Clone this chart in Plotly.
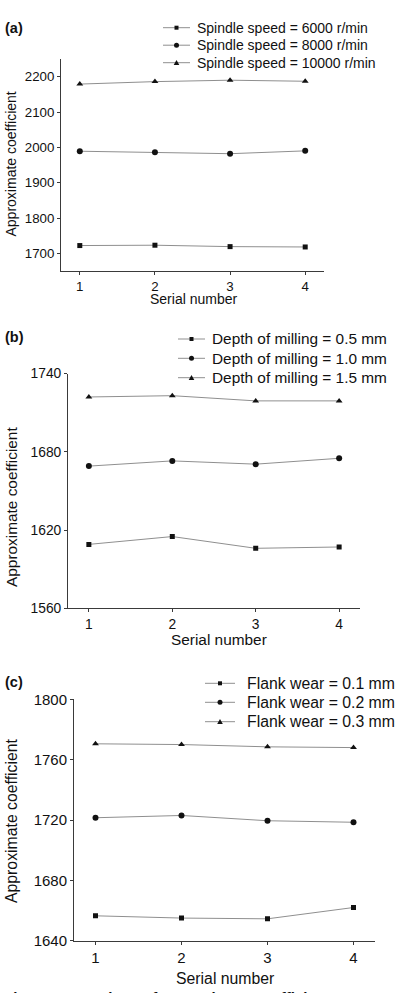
import plotly.graph_objects as go

# serial numbers on x
serial = [1, 2, 3, 4]

# (a) spindle speed
speed_6000 = [1722, 1723, 1719, 1718]
speed_8000 = [1989, 1986, 1982, 1990]
speed_10000 = [2179, 2186, 2190, 2187]

# (b) depth of milling
depth_05 = [1609, 1615, 1606, 1607]
depth_10 = [1669, 1673, 1670.5, 1675]
depth_15 = [1722, 1723, 1719, 1719]

# (c) flank wear
wear_01 = [1656.5, 1655, 1654.5, 1662]
wear_02 = [1721.5, 1723, 1719.5, 1718.5]
wear_03 = [1770.5, 1770, 1768.5, 1768]

names_a = ['Spindle speed = 6000 r/min', 'Spindle speed = 8000 r/min', 'Spindle speed = 10000 r/min']
names_b = ['Depth of milling = 0.5 mm', 'Depth of milling = 1.0 mm', 'Depth of milling = 1.5 mm']
names_c = ['Flank wear = 0.1 mm', 'Flank wear = 0.2 mm', 'Flank wear = 0.3 mm']

W, H = 400, 993
FONT = 'Arial, Liberation Sans, sans-serif'
INK = '#111111'
LINE_GRAY = '#8f8f8f'
symbols = ['square', 'circle', 'triangle-up']
sizes = [5, 6, 6]


def px_x(p):
    return p / W


def px_y(p):
    return 1 - p / H


# per panel: plot box (left, right, top, bottom), y range, tick values, font sizes,
# legend geometry (line x0, x1, text x, row ys), axis title spots
panels = [
    dict(series=[speed_6000, speed_8000, speed_10000], names=names_a,
         box=(61, 324, 59, 271), yr=[1650, 2250], ticks=list(range(1700, 2201, 100)),
         tick_fs=13.3, fs=14, leg=(163, 190, 195, [27.7, 45.2, 62.7]),
         xt=(193, 299), yt=(10, 164.5), lab=(3, 27.7, '(a)')),
    dict(series=[depth_05, depth_10, depth_15], names=names_b,
         box=(68, 360, 373.5, 608.3), yr=[1560, 1740], ticks=list(range(1560, 1741, 60)),
         tick_fs=13.8, fs=15.4, leg=(178, 205, 210, [339, 358.3, 377.7]),
         xt=(218.5, 639.5), yt=(11.5, 507.5), lab=(3, 337, '(b)')),
    dict(series=[wear_01, wear_02, wear_03], names=names_c,
         box=(74, 375, 699.3, 940.7), yr=[1640, 1800], ticks=list(range(1640, 1801, 40)),
         tick_fs=15, fs=15.8, leg=(205, 235, 245, [683.3, 702.3, 721.7]),
         xt=(224.5, 978.8), yt=(11.7, 820.3), lab=(3, 682, '(c)')),
]

fig = go.Figure()
layout = {}
shapes = []
annotations = []

for i, p in enumerate(panels):
    sfx = '' if i == 0 else str(i + 1)
    for vals, name, sym, sz in zip(p['series'], p['names'], symbols, sizes):
        fig.add_trace(go.Scatter(
            x=serial, y=vals, name=name, mode='lines+markers',
            xaxis='x' + sfx, yaxis='y' + sfx, showlegend=False,
            line=dict(color=LINE_GRAY, width=1),
            marker=dict(symbol=sym, size=sz, color=INK),
        ))

    l, r, t, b = p['box']
    common = dict(showline=True, linecolor='#3a3a3a', linewidth=1, ticks='outside',
                  ticklen=3, tickcolor='#3a3a3a', showgrid=False, zeroline=False,
                  tickfont=dict(size=p['tick_fs'], color=INK, family=FONT))
    layout['xaxis' + sfx] = dict(common, domain=[px_x(l), px_x(r)], range=[0.75, 4.25],
                                 tickvals=serial, anchor='y' + sfx)
    layout['yaxis' + sfx] = dict(common, domain=[px_y(b), px_y(t)], range=p['yr'],
                                 tickvals=p['ticks'], anchor='x' + sfx)

    # axis titles
    annotations.append(dict(text='Serial number', x=px_x(p['xt'][0]), y=px_y(p['xt'][1]),
                            xanchor='center', yanchor='middle',
                            font=dict(size=p['fs'], color=INK, family=FONT)))
    annotations.append(dict(text='Approximate coefficient', x=px_x(p['yt'][0]), y=px_y(p['yt'][1]),
                            xanchor='center', yanchor='middle', textangle=-90,
                            font=dict(size=p['fs'], color=INK, family=FONT)))
    # panel label
    lx, ly, lab = p['lab']
    annotations.append(dict(text='<b>' + lab + '</b>', x=px_x(lx), y=px_y(ly),
                            xanchor='left', yanchor='middle',
                            font=dict(size=14.5, color=INK, family=FONT)))

    # legend: gray line, small black glyph, label
    x0, x1, xtxt, rows = p['leg']
    xm = (x0 + x1) / 2
    for name, sym, yy in zip(p['names'], symbols, rows):
        shapes.append(dict(type='line', xref='paper', yref='paper',
                           x0=px_x(x0), x1=px_x(x1), y0=px_y(yy), y1=px_y(yy),
                           line=dict(color=LINE_GRAY, width=1)))
        if sym == 'square':
            shapes.append(dict(type='rect', xref='paper', yref='paper',
                               x0=px_x(xm - 2), x1=px_x(xm + 2), y0=px_y(yy + 2), y1=px_y(yy - 2),
                               fillcolor=INK, line=dict(width=0)))
        elif sym == 'circle':
            shapes.append(dict(type='circle', xref='paper', yref='paper',
                               x0=px_x(xm - 2.5), x1=px_x(xm + 2.5), y0=px_y(yy + 2.5), y1=px_y(yy - 2.5),
                               fillcolor=INK, line=dict(width=0)))
        else:
            path = 'M {} {} L {} {} L {} {} Z'.format(
                px_x(xm - 2.8), px_y(yy + 2.2), px_x(xm + 2.8), px_y(yy + 2.2), px_x(xm), px_y(yy - 2.6))
            shapes.append(dict(type='path', xref='paper', yref='paper', path=path,
                               fillcolor=INK, line=dict(width=0)))
        annotations.append(dict(text=name, x=px_x(xtxt), y=px_y(yy), xanchor='left', yanchor='middle',
                                font=dict(size=p['fs'], color=INK, family=FONT)))

# caption, cut off at the bottom edge as in the source image
annotations.append(dict(text='<b>Fig. 3  Comparison of approximate coefficients</b>',
                        x=px_x(2), y=px_y(987), xanchor='left', yanchor='top',
                        font=dict(size=15, color=INK, family=FONT)))

for a in annotations:
    a.update(xref='paper', yref='paper', showarrow=False)

fig.update_layout(
    width=W, height=H, margin=dict(l=0, r=0, t=0, b=0, autoexpand=False),
    paper_bgcolor='white', plot_bgcolor='white',
    font=dict(family=FONT, size=13, color=INK),
    showlegend=False, shapes=shapes, annotations=annotations,
    **layout,
)

# drop the browser's default 8px body margin so the figure fills the window
fig.write_html("out.html", config={'displayModeBar': False},
               post_script="document.body.style.margin='0';")
